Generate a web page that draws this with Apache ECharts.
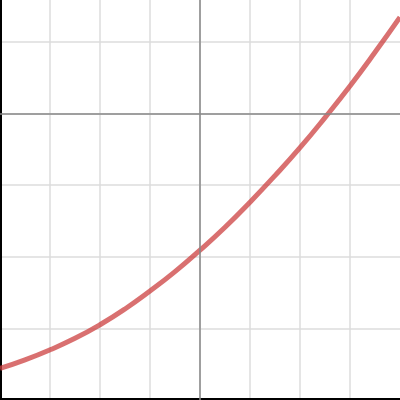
<!DOCTYPE html>
<html>
<head>
    <meta charset="utf-8">
    <title>ECharts</title>
    <script src="https://cdn.jsdelivr.net/npm/echarts@6/dist/echarts.min.js"></script>
    <style>
        html, body { margin: 0; padding: 0; background: #fff; }
    </style>
</head>
<body>
<div id="main" style="width: 400px;height:400px;"></div>
<script type="text/javascript">
    // points, every half unit
    var xValues = [-4, -3.5, -3, -2.5, -2, -1.5, -1, -0.5, 0, 0.5, 1, 1.5, 2, 2.5, 3, 3.5, 4];
    var yValues = [-3.56, -3.44, -3.30, -3.14, -2.95, -2.73, -2.48, -2.21, -1.91,
                   -1.59, -1.24, -0.87, -0.48, -0.06, 0.38, 0.85, 1.34];

    var chartDom = document.getElementById('main');
    var myChart = echarts.init(chartDom);

    var points = xValues.map(function (x, i) {
        return [x, yValues[i]];
    });

    var option = {
        animation: false,
        grid: { left: 0, right: 0, top: 0, bottom: 0 },
        xAxis: {
            type: 'value',
            min: -4,
            max: 4,
            interval: 1,
            axisLine: { onZero: false, lineStyle: { color: '#000', width: 4 } },
            axisTick: { show: false },
            axisLabel: { show: false },
            splitLine: {
                showMinLine: false,
                showMaxLine: false,
                lineStyle: { color: '#dcdcdc', width: 1.5 }
            }
        },
        yAxis: {
            type: 'value',
            min: -4,
            max: 1.58,
            interval: 1,
            axisLine: { show: true, onZero: false, lineStyle: { color: '#000', width: 4 } },
            axisTick: { show: false },
            axisLabel: { show: false },
            splitLine: {
                showMinLine: false,
                showMaxLine: false,
                lineStyle: { color: '#dcdcdc', width: 1.5 }
            }
        },
        series: [
            {
                type: 'line',
                data: points,
                smooth: 0.5,
                showSymbol: false,
                lineStyle: { color: '#cc4040', width: 5, opacity: 0.75 },
                markLine: {
                    silent: true,
                    symbol: 'none',
                    label: { show: false },
                    lineStyle: { color: '#888', width: 1.5, type: 'solid' },
                    data: [{ xAxis: 0 }, { yAxis: 0 }]
                }
            }
        ]
    };

    myChart.setOption(option);
</script>
</body>
</html>
